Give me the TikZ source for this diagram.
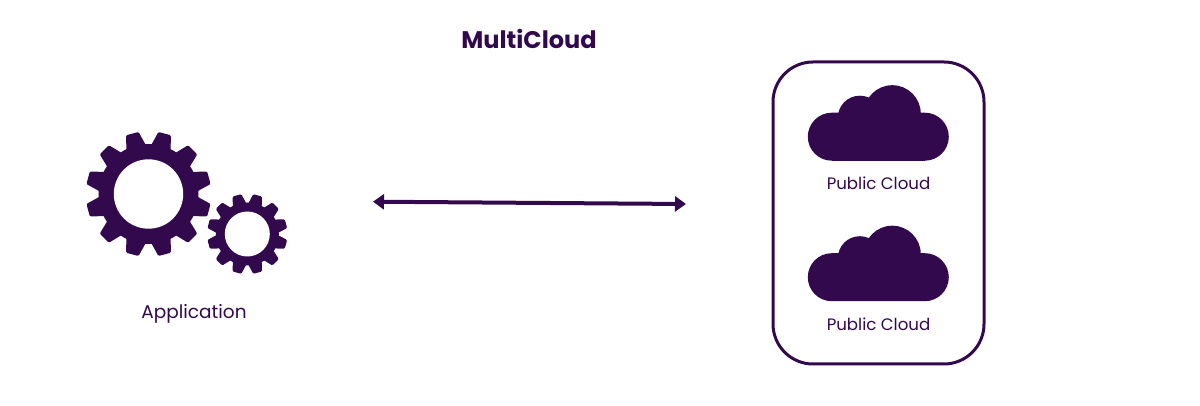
\documentclass[tikz,border=0pt]{standalone}
\usepackage{fontspec}
\setmainfont{Poppins}
\usetikzlibrary{arrows.meta}
\definecolor{plum}{HTML}{33094D}
\tikzset{
  x=0.5pt,y=-0.5pt,
  app text/.style={text=plum,inner sep=0pt,anchor=center,font=\fontsize{9.25}{11}\selectfont},
  label text/.style={text=plum,inner sep=0pt,anchor=center,font=\fontsize{8.3}{10}\selectfont},
  title text/.style={text=plum,inner sep=0pt,anchor=center,font=\fontsize{12}{14}\selectfont\bfseries},
  frame box/.style={draw=plum,line width=1.5pt,rounded corners=20pt},
  link/.style={draw=plum,line width=2pt,{Triangle[length=5.5pt,width=7.5pt]}-{Triangle[length=5.5pt,width=7.5pt]}},
  pics/gear/.style args={#1/#2/#3}{code={
    \fill[plum] (0,0) circle[radius=#2];
    \foreach \a in {15,45,...,345}{
      \filldraw[plum,rotate=\a,line join=round,line width=1.5pt]
        (#2-1.5,{-0.135*#3}) -- (#3-1,{-0.085*#3}) -- (#3-1,{0.085*#3}) -- (#2-1.5,{0.135*#3}) -- cycle;
    }
    \fill[white] (0,0) circle[radius=#1];
  }},
  pics/cloudshape/.style={code={
    \fill[plum] (-46.5,24) arc[start angle=90,end angle=270,radius=24] -- (46.5,-24) arc[start angle=-90,end angle=90,radius=24] -- cycle;
    \fill[plum] (-46.5,-23.5) rectangle (46.5,24);
    \fill[plum] (14,-23) circle[radius=28.5];
    \fill[plum] (-18.5,-19) circle[radius=22];
  }}
}
\begin{document}
\begin{tikzpicture}
\useasboundingbox (0,0) rectangle (1200,406);
\fill[white] (0,0) rectangle (1200,406);
\node[title text] (title) at (529,39) {MultiCloud};
\pic at (148.5,194) {gear={34.7/50/62}};
\pic at (247.3,234) {gear={22.5/31.5/39.5}};
\node[app text] (app) at (194,314) {Application};
\draw[frame box] (773,62) rectangle (984,364);
\pic at (878.3,136.7) {cloudshape};
\node[label text] (pc1) at (878.5,183) {Public Cloud};
\pic at (878.3,277.2) {cloudshape};
\node[label text] (pc2) at (878.5,324) {Public Cloud};
\coordinate (linkL) at (373,201.7);
\coordinate (linkR) at (686,204);
\draw[link] (linkL) -- (linkR);
\end{tikzpicture}
\end{document}
